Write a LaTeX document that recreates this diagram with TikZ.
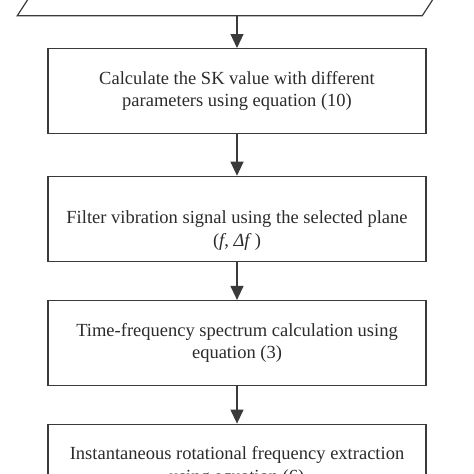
\documentclass[tikz,border=0pt]{standalone}
\usepackage{fontspec}
\setmainfont{Liberation Serif}
\usepackage{tikz}
\usetikzlibrary{arrows.meta,positioning}

\definecolor{linegray}{HTML}{3A3A3A}
\definecolor{textgray}{HTML}{2B2B2B}

\begin{document}
\begin{tikzpicture}[node distance=38pt,>={Triangle[length=14pt,width=13pt]},auto]

    \clip (0,0) rectangle (474pt,-474pt);

    \tikzstyle{border}=[draw=linegray,line width=1.2pt]
    \tikzstyle{process}=[rectangle,border,minimum width=378pt,minimum height=85pt,align=center,text=textgray,font=\fontsize{18.5}{22.5}\selectfont]
    \tikzstyle{flow}=[border,<-]
    \begin{scope}
        \draw [border,line join=miter] (17.3pt,-15.7pt) ++(57:60pt) -- (17.3pt,-15.7pt) -- (422.3pt,-15.7pt) -- ++(57:60pt);
        \coordinate (input) at (237pt,-15.7pt);
        \node [process] (sk) [below=32.3pt of input] {Calculate the SK value with different\\parameters using equation (10)}
            edge [flow] (input);
        \node [process] (filter) [below=41.5pt of sk,label={[process,draw=none,yshift=-11.5pt]center:Filter vibration signal using the selected plane\\(\textit{f}, \textit{Δf}\,)}] {}
            edge [flow] (sk);
        \node [process] (tfs) [below=of filter] {Time-frequency spectrum calculation using\\equation (3)}
            edge [flow] (filter);
        \node [process] (irf) [below=37.5pt of tfs] {Instantaneous rotational frequency extraction\\using equation (6)}
            edge [flow] (tfs);
    \end{scope}
\end{tikzpicture}
\end{document}
